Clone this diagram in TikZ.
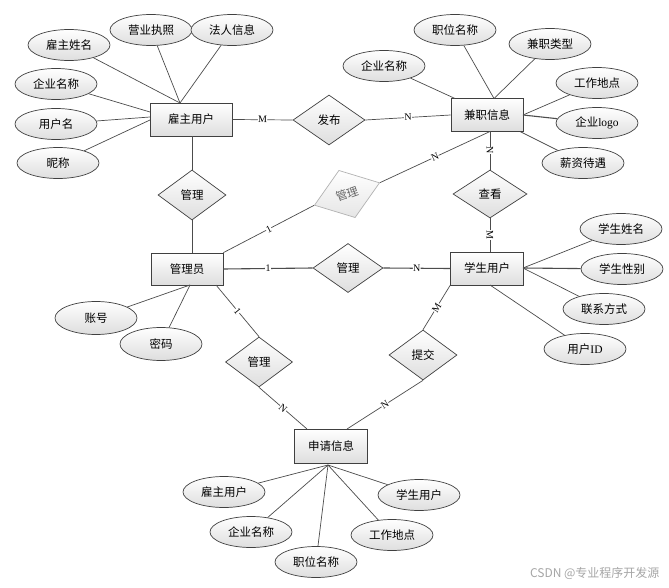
\documentclass[tikz,border=0pt]{standalone}
\usepackage{fontspec}
\setmainfont{Liberation Serif}
\newfontfamily\cjk{Noto Sans CJK SC}
\usetikzlibrary{shapes.geometric,calc}
\begin{document}
\begin{tikzpicture}[x=1pt,y=-1pt,
  txt/.style={font=\cjk\fontsize{11.5}{13}\selectfont},
  ent/.style={txt,rectangle,draw=black!75,line width=0.7pt,top color=white,bottom color=black!13,inner sep=0pt},
  attr/.style={txt,ellipse,draw=black!75,line width=0.7pt,top color=white,bottom color=black!13,inner sep=0pt,minimum width=82pt,minimum height=31pt},
  rel/.style={txt,diamond,draw=black!75,line width=0.7pt,top color=white,bottom color=black!13,inner sep=0pt},
  faded/.style={txt,diamond,draw=black!30,line width=0.7pt,top color=white,bottom color=black!10,text=black!60,inner sep=0pt},
  con/.style={draw=black!70,line width=0.7pt},
  thick con/.style={draw=black!70,line width=1.1pt},
  card/.style={font=\rmfamily\fontsize{10}{11}\selectfont,fill=white,inner sep=0.3pt,sloped}
]
\useasboundingbox (0,0) rectangle (669,588);
\fill[white] (0,0) rectangle (669,588);

% entities
\node[ent,minimum width=82pt,minimum height=33pt] (gz) at (191,119.5) {雇主用户};
\node[ent,minimum width=72pt,minimum height=33pt] (jz) at (487,115) {兼职信息};
\node[ent,minimum width=72pt,minimum height=32pt] (gly) at (187,269) {管理员};
\node[ent,minimum width=73pt,minimum height=33pt] (xs) at (487,268.5) {学生用户};
\node[ent,minimum width=73pt,minimum height=34pt] (sq) at (331,446) {申请信息};

% relations
\node[rel,minimum width=72pt,minimum height=50pt] (fb) at (329,120) {发布};
\node[rel,minimum width=68pt,minimum height=50pt] (gl1) at (192,195) {管理};
\node[faded,minimum width=69pt,minimum height=50pt,rotate=19] (gl2) at (347,194) {管理};
\node[rel,minimum width=74pt,minimum height=48pt] (ck) at (490,194) {查看};
\node[rel,minimum width=70pt,minimum height=49pt] (gl3) at (348,268) {管理};
\node[rel,minimum width=68pt,minimum height=50pt] (tj) at (423,355) {提交};
\node[rel,minimum width=67pt,minimum height=50pt] (gl4) at (259,362) {管理};

% attributes of 雇主用户
\node[attr] (a1) at (69,45) {雇主姓名};
\node[attr] (a2) at (151,30) {营业执照};
\node[attr] (a3) at (232,30) {法人信息};
\node[attr] (a4) at (56,84) {企业名称};
\node[attr] (a5) at (56,124) {用户名};
\node[attr] (a6) at (58,163) {昵称};
% attributes of 兼职信息
\node[attr] (b1) at (384,66) {企业名称};
\node[attr] (b2) at (455,30) {职位名称};
\node[attr] (b3) at (550,44) {兼职类型};
\node[attr] (b4) at (597,83) {工作地点};
\node[attr] (b5) at (597,123) {企业{\rmfamily logo}};
\node[attr] (b6) at (583,163) {薪资待遇};
% attributes of 学生用户
\node[attr] (c1) at (621,229) {学生姓名};
\node[attr] (c2) at (622,269) {学生性别};
\node[attr] (c3) at (604,309) {联系方式};
\node[attr] (c4) at (585,349) {用户{\rmfamily ID}};
% attributes of 管理员
\node[attr,minimum height=33pt] (d1) at (96,318) {账号};
\node[attr,minimum height=33pt] (d2) at (161,344) {密码};
% attributes of 申请信息
\node[attr] (e1) at (224,492) {雇主用户};
\node[attr] (e2) at (251,532) {企业名称};
\node[attr] (e3) at (316,562) {职位名称};
\node[attr] (e4) at (392,535) {工作地点};
\node[attr] (e5) at (419,495) {学生用户};

% attachment points
\coordinate (gzT) at (180,103);
\coordinate (gzL1) at (150,112);
\coordinate (gzL2) at (150,117);
\coordinate (gzL3) at (150,120);
\coordinate (jzT1) at (455,98.5);
\coordinate (jzT2) at (494,98.5);
\coordinate (jzR) at (523,115);
\coordinate (jzR2) at (520,131.5);
\coordinate (jzB) at (490,131.5);
\coordinate (xsR) at (523,268);
\coordinate (xsB) at (490,285);
\coordinate (glyB) at (190,285);
\coordinate (glyBR) at (216,285);
\coordinate (sqT) at (328,465);
\coordinate (sqTL) at (307,429);
\coordinate (sqTR) at (347,429);

% attribute connectors
\draw[con] (a1) -- (gzT);
\draw[con] (a2) -- (gzT);
\draw[con] (a3) -- (gzT);
\draw[con] (a4) -- (gzL1);
\draw[con] (a5) -- (gzL2);
\draw[con] (a6) -- (gzL3);
\draw[con] (b1) -- (jzT1);
\draw[con] (b2) -- (jzT2);
\draw[con] (b3) -- (jzT2);
\draw[con] (b4) -- (jzR);
\draw[thick con] (b5) -- (jzR);
\draw[con] (b6) -- (jzR2);
\draw[con] (c1) -- (xsR);
\draw[thick con] (c2) -- (xsR);
\draw[con] (c3) -- (xsR);
\draw[con] (c4) -- (xsB);
\draw[con] (d1) -- (glyB);
\draw[con] (d2) -- (glyB);
\foreach \e in {e1,e2,e3,e4,e5} \draw[con] (\e) -- (sqT);

% relationship connectors
\draw[con] (gz.east) -- node[card] {M} (fb.west);
\draw[con] (fb.east) -- node[card] {N} (jz.west);
\draw[con] (gz.south -| gl1.north) -- (gl1.north);
\draw[con] (gl1.south) -- (gl1.south |- gly.north);
\draw[con] (gly.north east) -- node[card] {1} (gl2.west);
\draw[con] (gl2.east) -- node[card] {N} (jzB);
\draw[con] (jzB) -- node[card] {N} (ck.north);
\draw[con] (ck.south) -- node[card] {M} (ck.south |- xs.north);
\draw[thick con] (gly.east) -- node[card] {1} (gl3.west);
\draw[thick con] (gl3.east) -- node[card] {N} (xs.west);
\draw[con] (xs.south west) -- node[card] {M} (tj.north);
\draw[con] (tj.south) -- node[card] {N} (sqTR);
\draw[con] (glyBR) -- node[card] {1} (gl4.north);
\draw[con] (gl4.south) -- node[card] {N} (sqTL);

% watermark
\node[font=\cjk\fontsize{12}{14}\selectfont,text=black!35,anchor=east] (wm) at (663,573) {CSDN @专业程序开发源};
\end{tikzpicture}
\end{document}
